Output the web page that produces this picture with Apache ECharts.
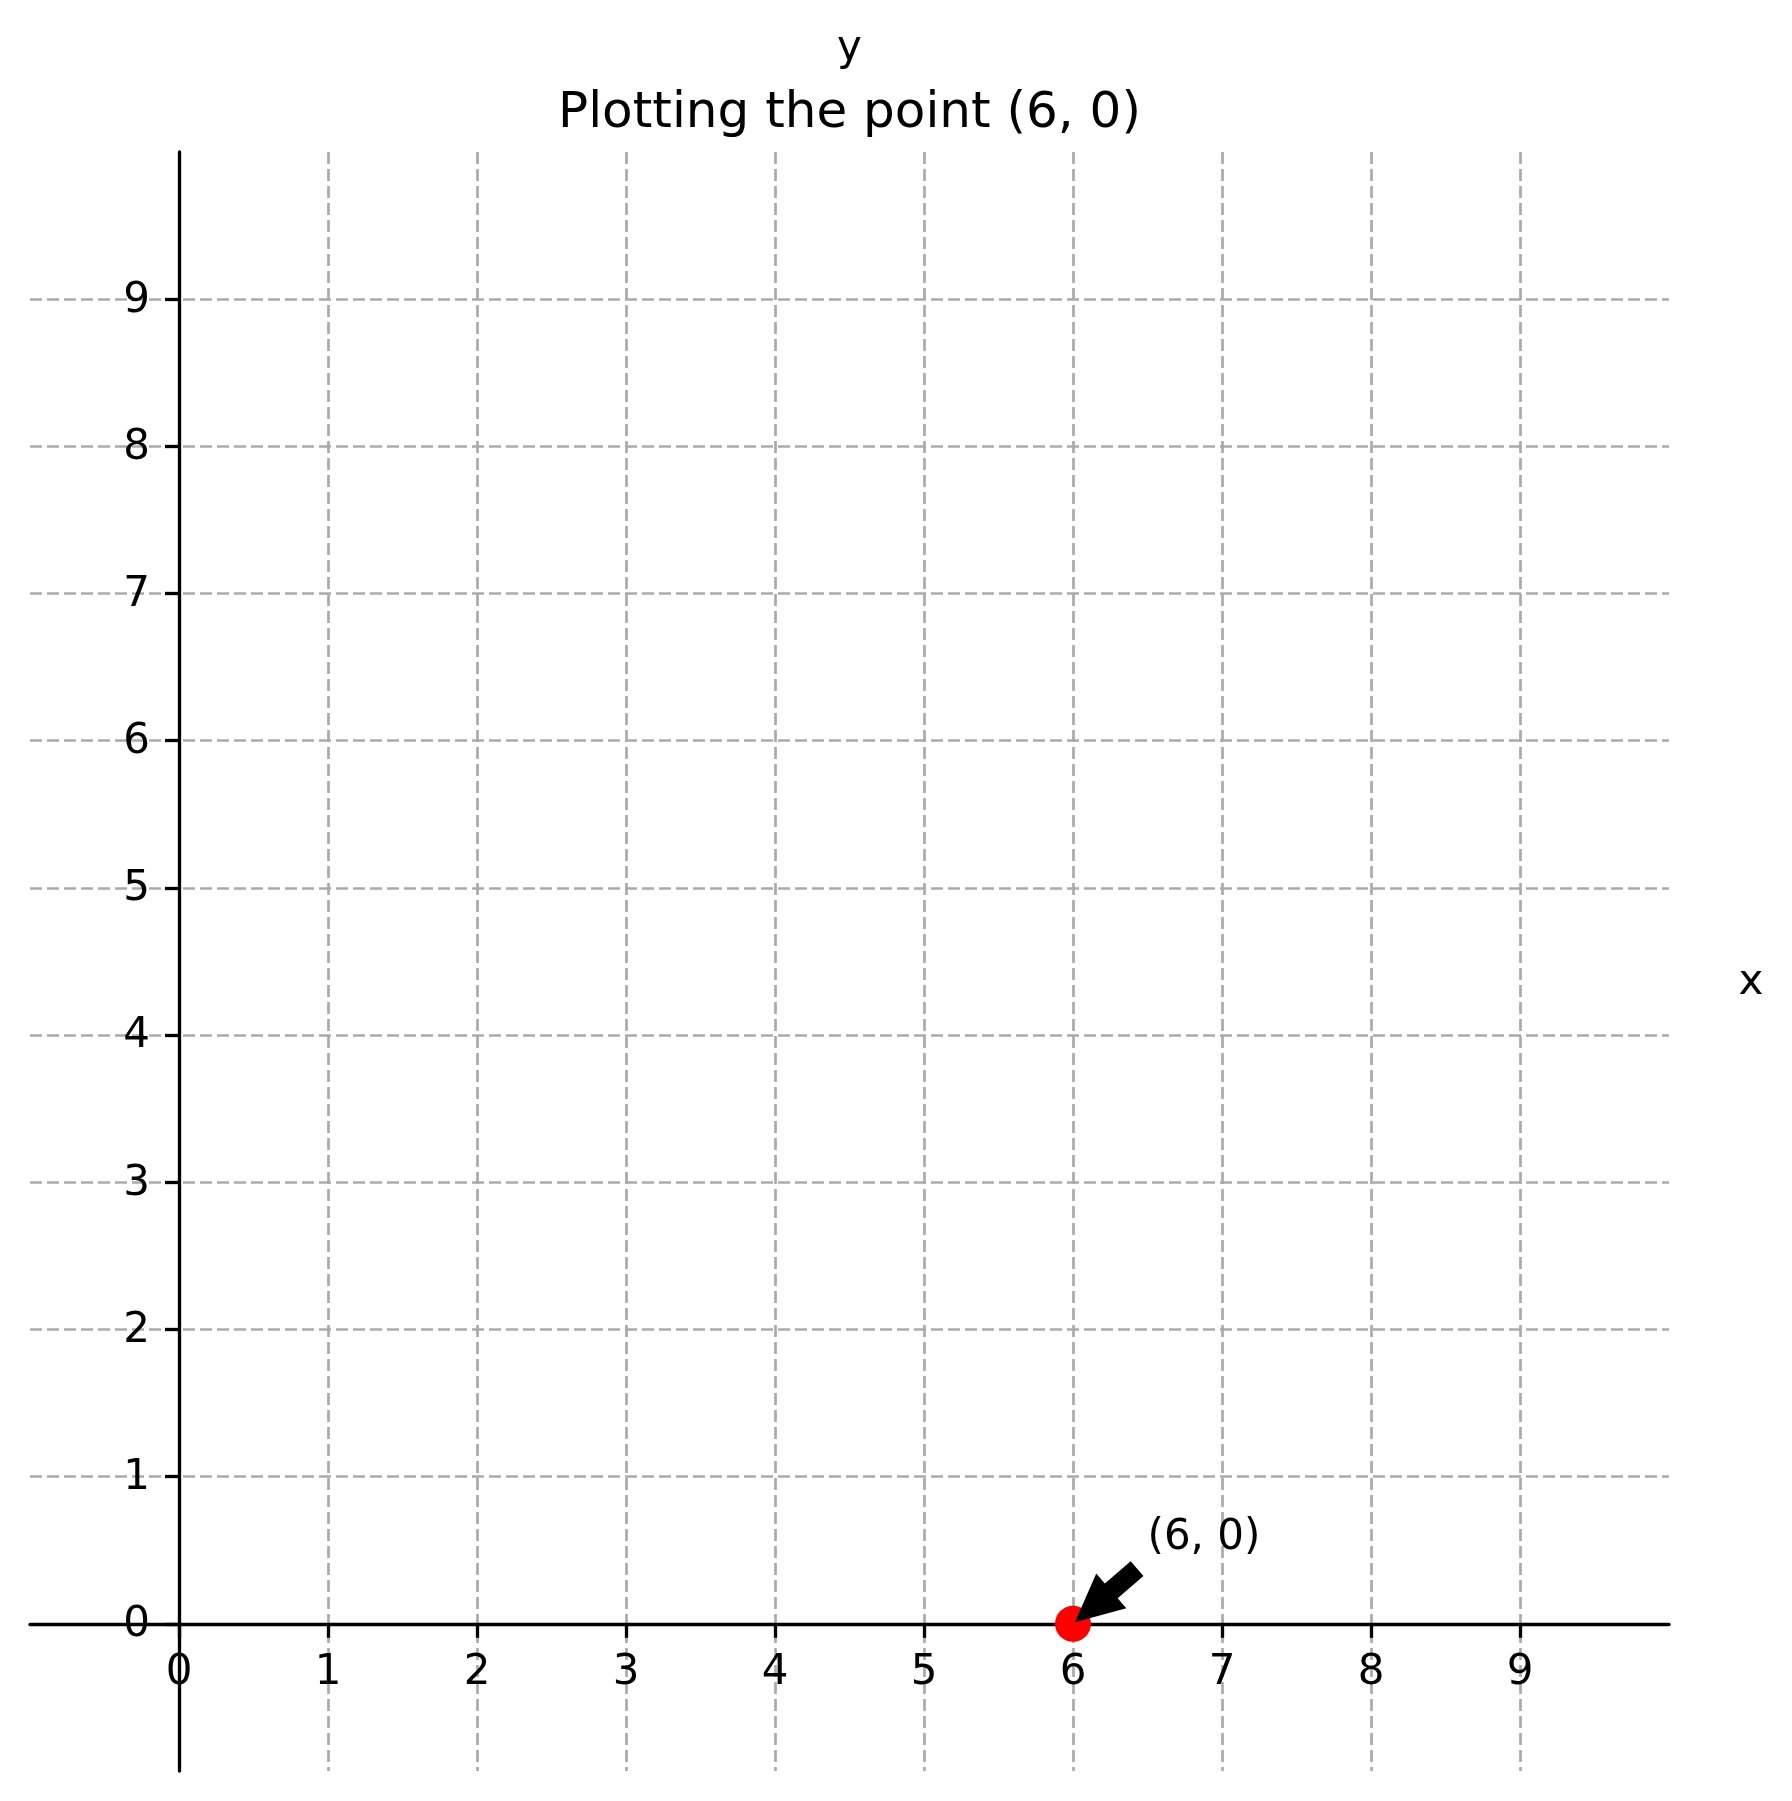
<!DOCTYPE html>
<html>
<head>
<meta charset="utf-8">
<script src="https://cdn.jsdelivr.net/npm/echarts@6/dist/echarts.min.js"></script>
<style>
html,body{margin:0;padding:0;background:#fff;}
#chart{width:1792px;height:1801px;}
</style>
</head>
<body>
<div id="chart"></div>
<script>
// ---- data ----
const xTicks = [0, 1, 2, 3, 4, 5, 6, 7, 8, 9];
const yTicks = [0, 1, 2, 3, 4, 5, 6, 7, 8, 9];
const xRange = [-1, 10];
const yRange = [-1, 10];
const pointData = [[6, 0]];
const annotationText = '(6, 0)';
const annotationPos = [6.5, 0.5];
const arrowTail = [6.43, 0.375];
const arrowHead = [6.0, 0.0];
const titleText = 'Plotting the point (6, 0)';
const xLabel = 'x';
const yLabel = 'y';

const FONT = '"DejaVu Sans", sans-serif';
const chart = echarts.init(document.getElementById('chart'), null, {renderer: 'canvas'});

const gridLeft = 30, gridRight = 123, gridTop = 152, gridBottom = 30;
const W = 1792, H = 1801;
const axesCenterX = gridLeft + (W - gridLeft - gridRight) / 2;

function axisCommon(ticks, range) {
  return {
    type: 'value',
    min: range[0],
    max: range[1],
    interval: 1,
    axisLine: {show: true, onZero: true, lineStyle: {color: '#000', width: 3.3}},
    axisTick: {show: true, length: 14, inside: false, customValues: ticks, lineStyle: {color: '#000', width: 3.3}},
    axisLabel: {show: false},
    splitLine: {show: true, showMinLine: true, showMaxLine: true,
      lineStyle: {color: '#aaaaaa', width: 2.7, type: [12, 5]}},
    splitArea: {show: false}
  };
}

const option = {
  backgroundColor: '#fff',
  animation: false,
  grid: {left: gridLeft, right: gridRight, top: gridTop, bottom: gridBottom, containLabel: false, outerBoundsMode: 'none'},
  xAxis: axisCommon(xTicks, xRange),
  yAxis: axisCommon(yTicks, yRange),
  graphic: [
    {type: 'text', x: axesCenterX, y: 114.5, style: {text: titleText, font: '50px ' + FONT, fill: '#000', align: 'center', verticalAlign: 'middle'}},
    {type: 'text', x: axesCenterX, y: 49, style: {text: yLabel, font: '42px ' + FONT, fill: '#000', align: 'center', verticalAlign: 'middle'}},
    {type: 'text', x: 1751, y: 983, style: {text: xLabel, font: '42px ' + FONT, fill: '#000', align: 'center', verticalAlign: 'middle'}}
  ],
  series: [
    {
      // x tick labels, placed under the x axis line (which sits at y = 0)
      type: 'custom',
      z: 1,
      clip: false,
      silent: true,
      data: xTicks.map(function (v) { return [v, 0]; }),
      encode: {x: 0, y: 1},
      renderItem: function (params, api) {
        const p = api.coord([api.value(0), api.value(1)]);
        return {type: 'text', x: p[0], y: p[1] + 49.5,
          style: {text: String(api.value(0)), font: '42px ' + FONT, fill: '#000', align: 'center', verticalAlign: 'middle'}};
      }
    },
    {
      // y tick labels, placed left of the y axis line (which sits at x = 0)
      type: 'custom',
      z: 1,
      clip: false,
      silent: true,
      data: yTicks.map(function (v) { return [0, v]; }),
      encode: {x: 0, y: 1},
      renderItem: function (params, api) {
        const p = api.coord([api.value(0), api.value(1)]);
        return {type: 'text', x: p[0] - 29, y: p[1] + 1.5,
          style: {text: String(api.value(1)), font: '42px ' + FONT, fill: '#000', align: 'right', verticalAlign: 'middle'}};
      }
    },
    {
      type: 'scatter',
      data: pointData,
      symbol: 'circle',
      symbolSize: 36,
      itemStyle: {color: '#ff0000', opacity: 1},
      z: 3,
      clip: false
    },
    {
      type: 'custom',
      z: 4,
      clip: false,
      data: [[arrowTail[0], arrowTail[1], arrowHead[0], arrowHead[1]]],
      encode: {x: [0, 2], y: [1, 3]},
      renderItem: function (params, api) {
        const t = api.coord([api.value(0), api.value(1)]);
        const h = api.coord([api.value(2), api.value(3)]);
        const dx = h[0] - t[0], dy = h[1] - t[1];
        const L = Math.sqrt(dx * dx + dy * dy);
        const ux = dx / L, uy = dy / L;
        const nx = -uy, ny = ux;
        const shrink = 2.5;
        const tip = [h[0] - ux * shrink, h[1] - uy * shrink];
        const headLen = 48, headHalf = 23, shaftHalf = 9.8;
        const base = [tip[0] - ux * headLen, tip[1] - uy * headLen];
        const pts = [
          [t[0] + nx * shaftHalf, t[1] + ny * shaftHalf],
          [base[0] + nx * shaftHalf, base[1] + ny * shaftHalf],
          [base[0] + nx * headHalf, base[1] + ny * headHalf],
          tip,
          [base[0] - nx * headHalf, base[1] - ny * headHalf],
          [base[0] - nx * shaftHalf, base[1] - ny * shaftHalf],
          [t[0] - nx * shaftHalf, t[1] - ny * shaftHalf]
        ];
        return {type: 'polygon', shape: {points: pts}, style: {fill: '#000', stroke: null}};
      }
    },
    {
      type: 'custom',
      z: 5,
      clip: false,
      data: [annotationPos],
      encode: {x: 0, y: 1},
      renderItem: function (params, api) {
        const p = api.coord([api.value(0), api.value(1)]);
        return {type: 'text', x: p[0], y: p[1] - 12,
          style: {text: annotationText, font: '42px ' + FONT, fill: '#000', align: 'left', verticalAlign: 'middle'}};
      }
    }
  ]
};
chart.setOption(option);
</script>
</body>
</html>
